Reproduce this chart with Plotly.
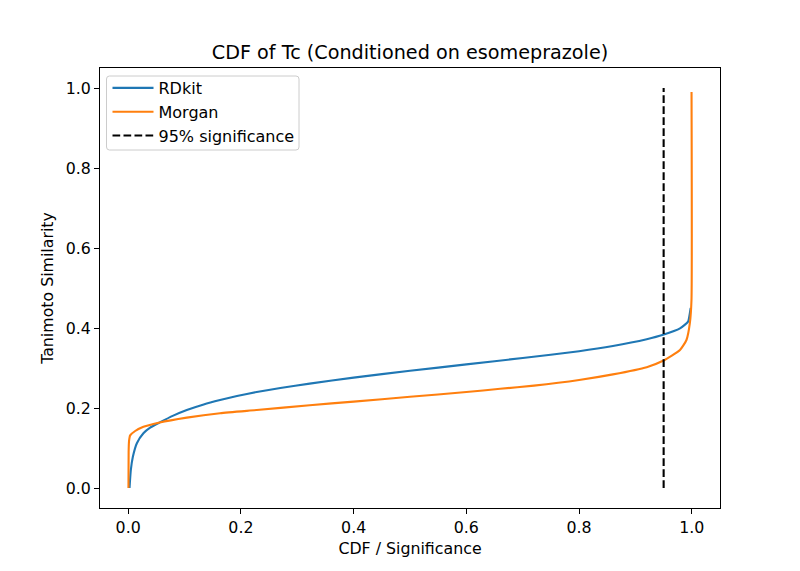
import plotly.graph_objects as go

# RDkit CDF curve (x = CDF, y = Tanimoto similarity)
rdkit_cdf = [0.0024, 0.0047, 0.0083, 0.0154, 0.027, 0.039, 0.056, 0.08, 0.104, 0.134,
             0.163, 0.193, 0.228, 0.27, 0.322, 0.4, 0.5, 0.6, 0.7, 0.8,
             0.86, 0.92, 0.949, 0.979, 0.9934, 0.9965, 0.998]
rdkit_tc = [0.0, 0.045, 0.078, 0.112, 0.137, 0.151, 0.164, 0.181, 0.195, 0.209,
            0.220, 0.230, 0.240, 0.250, 0.261, 0.276, 0.293, 0.309, 0.325, 0.342,
            0.355, 0.372, 0.383, 0.399, 0.416, 0.437, 0.45]

# Morgan CDF curve
morgan_cdf = [0.0005, 0.0008, 0.0015, 0.0035, 0.0124, 0.027, 0.056, 0.104, 0.163, 0.228,
              0.322, 0.4, 0.5, 0.6, 0.66, 0.72, 0.8, 0.86, 0.92, 0.949,
              0.979, 0.9905, 0.9965, 0.9994, 0.9995]
morgan_tc = [0.0, 0.09, 0.117, 0.1315, 0.1425, 0.153, 0.164, 0.176, 0.187, 0.195,
             0.207, 0.216, 0.228, 0.240, 0.248, 0.256, 0.270, 0.284, 0.302, 0.318,
             0.345, 0.37, 0.412, 0.47, 0.99]

# 95% significance line
sig_x = [0.95, 0.95]
sig_y = [0.0, 1.0]

x_ticks = [0.0, 0.2, 0.4, 0.6, 0.8, 1.0]
y_ticks = [0.0, 0.2, 0.4, 0.6, 0.8, 1.0]

FONT = "DejaVu Sans"
fig = go.Figure()
fig.add_trace(go.Scatter(x=rdkit_cdf, y=rdkit_tc, mode="lines", name="RDkit",
                         line=dict(color="#1f77b4", width=2.1, shape="spline", smoothing=0.5)))
fig.add_trace(go.Scatter(x=morgan_cdf, y=morgan_tc, mode="lines", name="Morgan",
                         line=dict(color="#ff7f0e", width=2.1, shape="spline", smoothing=0.5)))
fig.add_trace(go.Scatter(x=sig_x, y=sig_y, mode="lines", name="95% significance",
                         line=dict(color="black", width=2.1, dash="7.7px,3.3px")))

axis_common = dict(showline=True, linecolor="black", linewidth=1, mirror=True,
                   showgrid=False, zeroline=False, ticks="outside", ticklen=5,
                   tickwidth=1, tickcolor="black",
                   tickfont=dict(family=FONT, size=15.8, color="black"),
                   tickformat=".1f")

# legend frame (pixel -> paper coordinates of the plot area 100..720 x 68..508)
def px(x):
    return (x - 100) / 620

def py(y):
    return (508 - y) / 440

L, R, T, B, r = 106.5, 299, 76, 150, 3
frame = (f"M{px(L + r)},{py(T)} L{px(R - r)},{py(T)} Q{px(R)},{py(T)} {px(R)},{py(T + r)} "
         f"L{px(R)},{py(B - r)} Q{px(R)},{py(B)} {px(R - r)},{py(B)} "
         f"L{px(L + r)},{py(B)} Q{px(L)},{py(B)} {px(L)},{py(B - r)} "
         f"L{px(L)},{py(T + r)} Q{px(L)},{py(T)} {px(L + r)},{py(T)} Z")

fig.update_layout(
    width=800, height=571,
    margin=dict(l=100, r=80, t=68, b=63),
    paper_bgcolor="white", plot_bgcolor="white",
    font=dict(family=FONT, size=15.8, color="black"),
    title=dict(text="CDF of Tc (Conditioned on esomeprazole)", x=0.5125, xanchor="center",
               y=1 - 52 / 571, yanchor="middle", font=dict(family=FONT, size=19.2, color="black")),
    xaxis=dict(range=[-0.05, 1.05], tickvals=x_ticks,
               title=dict(text="CDF / Significance", standoff=6,
                          font=dict(family=FONT, size=15.8)), **axis_common),
    yaxis=dict(range=[-0.05, 1.05], tickvals=y_ticks,
               title=dict(text="Tanimoto Similarity", standoff=8,
                          font=dict(family=FONT, size=15.8)), **axis_common),
    legend=dict(x=px(107.5), y=py(71), xanchor="left", yanchor="top",
                bgcolor="rgba(0,0,0,0)", borderwidth=0,
                font=dict(family=FONT, size=16, color="black"),
                tracegroupgap=0, itemwidth=41),
    shapes=[dict(type="path", xref="paper", yref="paper", path=frame,
                 line=dict(color="#cccccc", width=1), fillcolor="rgba(255,255,255,0.8)",
                 layer="below")],
    showlegend=True,
)

fig.write_html("out.html")
